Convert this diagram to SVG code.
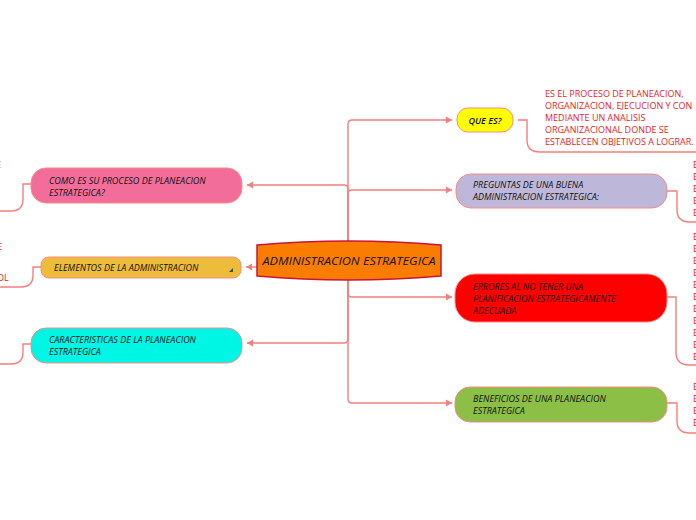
<svg xmlns="http://www.w3.org/2000/svg" width="696" height="520" viewBox="0 0 696 520">
<defs>
<style>
.c{fill:none;stroke:#f47f7c;stroke-width:1.4}
.n{stroke:#f58c86;stroke-width:1}
.t{font-family:"Open Sans","Noto Sans",sans-serif;font-style:italic;font-size:9px;fill:#111;letter-spacing:0px}
.d{font-family:"Open Sans","Noto Sans",sans-serif;font-size:9px;fill:#e8231f}
</style>
<marker id="a" markerUnits="userSpaceOnUse" markerWidth="7" markerHeight="8" refX="6" refY="4" orient="auto">
<path d="M0,0.5 L6,4 L0,7.5 Z" fill="#f47f7c"/>
</marker>
</defs>
<rect width="696" height="520" fill="#fff"/>
<g id="connectors">
<path class="c" d="M348,261 V124 Q348,120 352,120 H452" marker-end="url(#a)"/>
<path class="c" d="M348,261 V194 Q348,190 352,190 H452" marker-end="url(#a)"/>
<path class="c" d="M348,261 V293 Q348,297 352,297 H452" marker-end="url(#a)"/>
<path class="c" d="M348,261 V399 Q348,403 352,403 H452" marker-end="url(#a)"/>
<path class="c" d="M348,261 V189 Q348,185 344,185 H247" marker-end="url(#a)"/>
<path class="c" d="M348,261 V339 Q348,343 344,343 H247" marker-end="url(#a)"/>
<path class="c" d="M257,267 H246" marker-end="url(#a)"/>
<path class="c" d="M518,120 H527 V140 Q527,152 540,152 H696"/>
<path class="c" d="M667,191 H677 V210 Q677,222 690,222 H696"/>
<path class="c" d="M667,297 H676 V352 Q676,365 689,365 H696"/>
<path class="c" d="M667,403 H677 V421 Q677,433 690,433 H696"/>
<path class="c" d="M31,184 H23 V199 Q23,211 11,211 H0"/>
<path class="c" d="M41,267 H33 V275 Q33,287 21,287 H0"/>
<path class="c" d="M31,344 H23 V352 Q23,364 11,364 H0"/>
</g>
<g id="center">
<path d="M257,245 Q349,237 441,245 L441,276 Q349,284 257,276 Z" fill="#fb7d00" stroke="#c8153a" stroke-width="1.5"/>
<text x="349" y="265" text-anchor="middle" font-family="Open Sans, Noto Sans, sans-serif" font-style="italic" font-size="11" fill="#111" textLength="173" lengthAdjust="spacingAndGlyphs">ADMINISTRACION ESTRATEGICA</text>
</g>
<g id="que-es">
<rect class="n" x="457" y="108" width="56" height="24" rx="11" fill="#ffff00"/>
<text class="t" x="485" y="124" text-anchor="middle" font-weight="600">QUE ES?</text>
</g>
<g id="que-es-text">
<text class="d" x="545" y="97">ES EL PROCESO DE PLANEACION,</text>
<text class="d" x="545" y="109">ORGANIZACION, EJECUCION Y CON</text>
<text class="d" x="545" y="121">MEDIANTE UN ANALISIS</text>
<text class="d" x="545" y="133">ORGANIZACIONAL DONDE SE</text>
<text class="d" x="545" y="145">ESTABLECEN OBJETIVOS A LOGRAR.</text>
</g>
<g id="preguntas">
<rect class="n" x="456" y="174" width="211" height="34" rx="15" fill="#bdb8da"/>
<text class="t" x="473" y="188">PREGUNTAS DE UNA BUENA</text>
<text class="t" x="473" y="200">ADMINISTRACION ESTRATEGICA:</text>
</g>
<g id="errores">
<rect class="n" x="455" y="274" width="212" height="48" rx="20" fill="#ff0000"/>
<text class="t" x="473" y="290">ERRORES AL NO TENER UNA</text>
<text class="t" x="473" y="302">PLANIFICACION ESTRATEGICAMENTE</text>
<text class="t" x="473" y="314">ADECUADA</text>
</g>
<g id="beneficios">
<rect class="n" x="455" y="387" width="212" height="35" rx="15" fill="#8bbf45"/>
<text class="t" x="473" y="402">BENEFICIOS DE UNA PLANEACION</text>
<text class="t" x="473" y="414">ESTRATEGICA</text>
</g>
<g id="como-es">
<rect class="n" x="31" y="168" width="211" height="35" rx="15" fill="#f36d9a"/>
<text class="t" x="49" y="184">COMO ES SU PROCESO DE PLANEACION</text>
<text class="t" x="49" y="196">ESTRATEGICA?</text>
</g>
<g id="elementos">
<rect class="n" x="41" y="257" width="200" height="21" rx="8" fill="#ecbc3a"/>
<text class="t" x="54" y="271">ELEMENTOS DE LA ADMINISTRACION</text>
<path d="M233,268 V272 H229 Z" fill="#2d5a2d"/>
</g>
<g id="caracteristicas">
<rect class="n" x="31" y="328" width="211" height="35" rx="15" fill="#00f6e4"/>
<text class="t" x="49" y="343">CARACTERISTICAS DE LA PLANEACION</text>
<text class="t" x="49" y="355">ESTRATEGICA</text>
</g>
<g id="fragments">
<text class="d" x="-4" y="168">E</text>
<text class="d" x="-3" y="250">E</text>
<text class="d" x="-3" y="281">OL</text>
<text class="d" x="693" y="168">E</text>
<text class="d" x="693" y="180">E</text>
<text class="d" x="693" y="192">E</text>
<text class="d" x="693" y="204">E</text>
<text class="d" x="693" y="216">E</text>
<text class="d" x="693" y="240">E</text>
<text class="d" x="693" y="252">E</text>
<text class="d" x="693" y="264">E</text>
<text class="d" x="693" y="276">E</text>
<text class="d" x="693" y="288">E</text>
<text class="d" x="693" y="300">E</text>
<text class="d" x="693" y="312">E</text>
<text class="d" x="693" y="324">E</text>
<text class="d" x="693" y="336">E</text>
<text class="d" x="693" y="348">E</text>
<text class="d" x="693" y="360">E</text>
<text class="d" x="693" y="390">E</text>
<text class="d" x="693" y="402">E</text>
<text class="d" x="693" y="414">E</text>
<text class="d" x="693" y="426">E</text>
</g>
</svg>
